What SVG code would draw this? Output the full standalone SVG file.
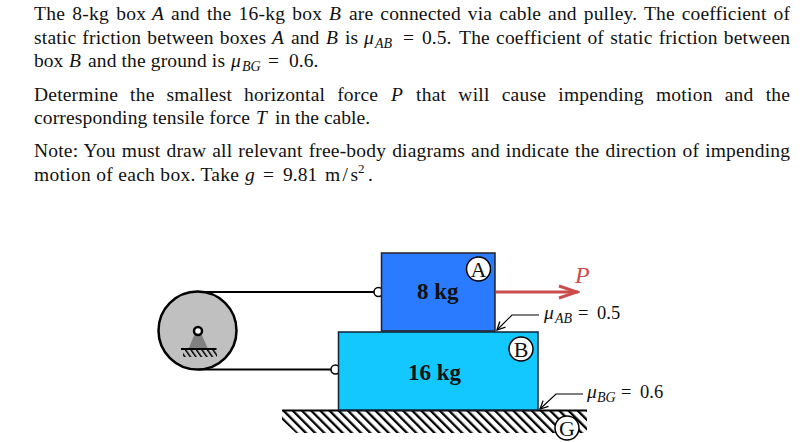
<svg xmlns="http://www.w3.org/2000/svg" width="807" height="442" viewBox="0 0 807 442">
<style>
text{font-family:"Liberation Serif","Times New Roman",serif;fill:#111}
.t{font-size:19.5px}
.i{font-size:19.5px;font-style:italic}
.s{font-size:14px;font-style:italic}
.lab{font-size:18.500px}
.labi{font-size:19.500px;font-style:italic}
.labs{font-size:14px;font-style:italic}
.b{font-size:23px;font-weight:bold}
.c{font-size:22px;text-anchor:middle}
.ln{fill:none;stroke:#000;stroke-width:2}
.thin{fill:none;stroke:#000;stroke-width:1.2}
.mark{fill:#fff;stroke:#000;stroke-width:1.500}
</style>
<defs>
<marker id="barb" viewBox="0 0 10 10" refX="9" refY="5" markerWidth="10" markerHeight="10" markerUnits="userSpaceOnUse" orient="auto"><path d="M1 1L9 5L1 9" fill="none" stroke="#000" stroke-width="1.3"/></marker>
<marker id="redbarb" viewBox="0 0 24 16" refX="22" refY="8" markerWidth="24" markerHeight="16" markerUnits="userSpaceOnUse" orient="auto"><path d="M3 2L21 8L3 14" fill="none" stroke="#cc4c4c" stroke-width="3"/></marker>
<pattern id="hatch" width="6.500" height="6.500" patternUnits="userSpaceOnUse" patternTransform="rotate(-45)"><rect width="2.300" height="6.500" fill="#000"/></pattern>
<pattern id="hatch2" width="4.500" height="4.500" patternUnits="userSpaceOnUse" patternTransform="rotate(-35)"><rect width="1.500" height="4.500" fill="#000"/></pattern>
</defs>
<rect width="807" height="442" fill="#fff"/>
<g id="problem-text">
<text class="t" x="34" y="20" textLength="112" word-spacing="2">The 8-kg box</text>
<text class="i" x="152" y="20">A</text>
<text class="t" x="171" y="20" textLength="151" word-spacing="2">and the 16-kg box</text>
<text class="i" x="329" y="20">B</text>
<text class="t" x="349" y="20" textLength="441" word-spacing="2">are connected via cable and pulley. The coefficient of</text>
<text class="t" x="34" y="44" textLength="232" word-spacing="1">static friction between boxes</text>
<text class="i" x="272" y="44">A</text>
<text class="t" x="291" y="44">and</text>
<text class="i" x="326" y="44">B</text>
<text class="t" x="345" y="44">is</text>
<text class="i" x="364" y="44">μ</text>
<text class="s" x="375" y="48">AB</text>
<text class="t" x="403" y="44">=</text>
<text class="t" x="422" y="44">0.5.</text>
<text class="t" x="459" y="44" textLength="331" word-spacing="1">The coefficient of static friction between</text>
<text class="t" x="34" y="67">box</text>
<text class="i" x="69" y="67">B</text>
<text class="t" x="88" y="67" textLength="137">and the ground is</text>
<text class="i" x="231" y="67">μ</text>
<text class="s" x="242" y="71">BG</text>
<text class="t" x="268" y="67">=</text>
<text class="t" x="289" y="67">0.6.</text>
<text class="t" x="34" y="101" textLength="344" word-spacing="7">Determine the smallest horizontal force</text>
<text class="i" x="391" y="101">P</text>
<text class="t" x="416" y="101" textLength="374" word-spacing="7">that will cause impending motion and the</text>
<text class="t" x="34" y="124" textLength="216">corresponding tensile force</text>
<text class="i" x="256" y="124">T</text>
<text class="t" x="275" y="124" textLength="95">in the cable.</text>
<text class="t" x="34" y="157" textLength="756" word-spacing="1">Note: You must draw all relevant free-body diagrams and indicate the direction of impending</text>
<text class="t" x="34" y="181" textLength="205">motion of each box. Take</text>
<text class="i" x="245" y="181">g</text>
<text class="t" x="263" y="181">=</text>
<text class="t" x="283" y="181">9.81</text>
<text class="t" x="325" y="181" textLength="33">m/s</text>
<text class="t" x="358" y="173" style="font-size:13px">2</text>
<text class="t" x="368" y="181">.</text>
</g>
<g id="ground">
<path d="M282 411H587V433H296L282 420Z" fill="url(#hatch)"/>
<path class="ln" d="M282 410.500H587"/>
</g>
<g id="connectors">
<path class="ln" d="M198 292H376M198 369.500H333"/>
<path d="M496 292H578" fill="none" stroke="#cc4c4c" stroke-width="3" marker-end="url(#redbarb)"/>
<path class="thin" d="M539 315H512L497 330" marker-end="url(#barb)"/>
<path class="thin" d="M583 394H556L540 409" marker-end="url(#barb)"/>
<circle class="mark" cx="378.500" cy="292" r="4.500"/>
<circle class="mark" cx="335.500" cy="369.500" r="4.500"/>
</g>
<g id="pulley">
<circle cx="197.500" cy="330.500" r="39" fill="#c0c0c0" stroke="#000" stroke-width="2.500"/>
<path d="M188.500 349L195 333H201L208 349Z" fill="#808080"/>
<rect x="183" y="350" width="34" height="7" fill="url(#hatch2)"/>
<path d="M181 349H216.500" class="ln"/>
<circle cx="198" cy="331" r="4" fill="#fff" stroke="#000" stroke-width="2.500"/>
</g>
<g id="box-a">
<rect x="381.500" y="253" width="113.500" height="78" fill="#2a7bff" stroke="#222" stroke-width="1.500"/>
<text class="b" x="417" y="299">8 kg</text>
<circle cx="478.500" cy="269" r="12" fill="#fff" stroke="#000" stroke-width="1.500"/>
<text class="c" x="478.500" y="276.500">A</text>
</g>
<g id="box-b">
<rect x="338.500" y="332" width="199.500" height="78" fill="#12c8ff" stroke="#123" stroke-width="1.500"/>
<text class="b" x="408" y="380">16 kg</text>
<circle cx="521" cy="349" r="12" fill="#fff" stroke="#000" stroke-width="1.500"/>
<text class="c" x="521" y="356.500">B</text>
</g>
<g id="ground-label">
<circle cx="567" cy="428" r="12" fill="#fff" stroke="#000" stroke-width="1.500"/>
<text class="c" x="567" y="435.500">G</text>
</g>
<g id="force-p"><text x="575" y="283" style="font-size:24px;font-style:italic;fill:#cc4c4c">P</text></g>
<g id="mu-ab"><text class="labi" x="544" y="319">μ</text><text class="labs" x="555" y="323">AB</text><text class="lab" x="578" y="319">=</text><text class="lab" x="597" y="319">0.5</text></g>
<g id="mu-bg"><text class="labi" x="587" y="398">μ</text><text class="labs" x="597" y="402">BG</text><text class="lab" x="621" y="398">=</text><text class="lab" x="640" y="398">0.6</text></g>
</svg>
